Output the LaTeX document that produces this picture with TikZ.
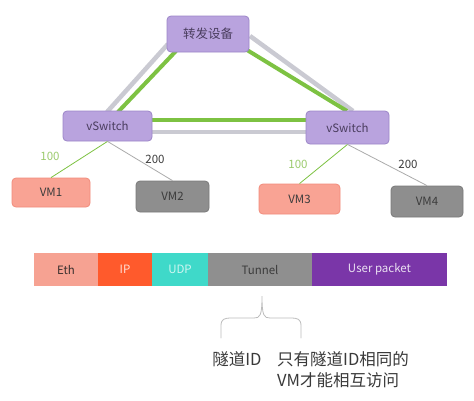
\documentclass[tikz,border=0pt]{standalone}
\usepackage{fontspec}
\setmainfont{Noto Sans CJK SC}
\setsansfont{Noto Sans CJK SC}
\begin{document}
\begin{tikzpicture}[x=1pt,y=-1pt,
  pbox/.style={draw=boxpurpleD,fill=boxpurple,rounded corners=4pt,line width=0.8pt,text=boxtext,font=\fontsize{11.5}{13}\selectfont,inner sep=0pt},
  vmred/.style={draw=vmredD,fill=vmred,rounded corners=4pt,line width=0.8pt,text=vmtext,font=\fontsize{11.5}{13}\selectfont,inner sep=0pt},
  vmgray/.style={draw=vmgrayD,fill=vmgray,rounded corners=4pt,line width=0.8pt,text=vmtext,font=\fontsize{11.5}{13}\selectfont,inner sep=0pt},
  glink/.style={draw=linkgreen,line width=4pt},
  wlink/.style={draw=linkgray,line width=4.5pt},
  thin green/.style={draw=linkgreen,line width=0.8pt},
  thin gray/.style={draw=thingray,line width=0.8pt},
  seg/.style={draw=none,inner sep=0pt,font=\fontsize{11.5}{13}\selectfont,minimum height=33pt},
  lbl/.style={inner sep=0pt,font=\fontsize{11.5}{13}\selectfont},
  cjk/.style={inner sep=0pt,font=\fontsize{16.5}{21}\selectfont,text=cjktext,align=left}
]
\definecolor{boxpurple}{HTML}{B9A3DE}
\definecolor{boxpurpleD}{HTML}{9C86C8}
\definecolor{boxtext}{HTML}{4A3D5E}
\definecolor{vmred}{HTML}{F9A394}
\definecolor{vmredD}{HTML}{F28C7C}
\definecolor{vmgray}{HTML}{8E8E8E}
\definecolor{vmgrayD}{HTML}{7A7A7A}
\definecolor{vmtext}{HTML}{3C3C3C}
\definecolor{linkgreen}{HTML}{7DC242}
\definecolor{linkgray}{HTML}{CACAD2}
\definecolor{thingray}{HTML}{ABABAB}
\definecolor{lblgreen}{HTML}{9CCB6E}
\definecolor{cjktext}{HTML}{3A3A3A}
\definecolor{cEth}{HTML}{F6A292}
\definecolor{cIP}{HTML}{FF5A2C}
\definecolor{cUDP}{HTML}{3FD9C9}
\definecolor{cTun}{HTML}{8F8F8F}
\definecolor{cUser}{HTML}{7A36A8}
\useasboundingbox (0,0) rectangle (474,400);
\fill[white] (0,0) rectangle (474,400);

% link endpoints
\coordinate (gl1) at (107,112); \coordinate (gl2) at (168,44);
\coordinate (ml1) at (118,112); \coordinate (ml2) at (176,51);
\coordinate (gr1) at (250,36); \coordinate (gr2) at (353,111);
\coordinate (mr1) at (247,50); \coordinate (mr2) at (347,111);
\coordinate (gh1) at (150,132); \coordinate (gh2) at (308,132);
\coordinate (mh1) at (150,120); \coordinate (mh2) at (308,120);

\draw[wlink] (gl1) -- (gl2);
\draw[wlink] (gr1) -- (gr2);
\draw[wlink] (gh1) -- (gh2);
\draw[glink] (ml1) -- (ml2);
\draw[glink] (mr1) -- (mr2);
\draw[glink] (mh1) -- (mh2);

% nodes
\node[pbox,minimum width=82pt,minimum height=36pt,font=\fontsize{12.5}{14}\selectfont] (fwd) at (208,34) {转发设备};
\node[pbox,minimum width=89pt,minimum height=30pt] (vsl) at (107.5,126) {vSwitch};
\node[pbox,minimum width=83pt,minimum height=33pt] (vsr) at (347.5,127.5) {vSwitch};
\node[vmred,minimum width=78pt,minimum height=29pt] (vm1) at (51,192.5) {VM1};
\node[vmgray,minimum width=73pt,minimum height=31pt] (vm2) at (172.5,196.5) {VM2};
\node[vmred,minimum width=81pt,minimum height=30pt] (vm3) at (299.5,199) {VM3};
\node[vmgray,minimum width=72pt,minimum height=31pt] (vm4) at (427,201.5) {VM4};

% VM links
\draw[thin green] (vsl.south) -- (vm1.north);
\draw[thin gray] (vsl.south) -- (vm2.north);
\draw[thin green] (vsr.south) -- (vm3.north);
\draw[thin gray] (vsr.south) -- (vm4.north);
\node[lbl,text=lblgreen] (l100a) at (50,156) {100};
\node[lbl,text=vmtext] (l200a) at (155,159) {200};
\node[lbl,text=lblgreen] (l100b) at (298,164) {100};
\node[lbl,text=vmtext] (l200b) at (408,164) {200};

% packet bar
\node[seg,fill=cEth,text=vmtext!80!cEth!60!black,minimum width=64pt] (eth) at (66,269.5) {Eth};
\node[seg,fill=cIP,text=white!80!cIP,minimum width=54pt] (ip) at (125,269.5) {IP};
\node[seg,fill=cUDP,text=white!75!cUDP,minimum width=56pt] (udp) at (180,269.5) {UDP};
\node[seg,fill=cTun,text=vmtext,minimum width=104pt] (tun) at (260,269.5) {Tunnel};
\node[seg,fill=cUser,text=white!85!cUser,minimum width=135pt] (usr) at (379.5,269.5) {User packet};

% brace
\coordinate (bl) at (221,338); \coordinate (br) at (301,338); \coordinate (bt) at (262,296);
\draw[draw=thingray!80,line width=0.8pt,line cap=round]
  (bl) -- (221,326) .. controls (221,319) and (224,318) .. (232,318)
  -- (254,318) .. controls (260,318) and (262,316) .. (bt)
  .. controls (262,316) and (264,318) .. (270,318)
  -- (290,318) .. controls (298,318) and (301,319) .. (301,326) -- (br);

% texts
\node[cjk,anchor=center] (tid) at (237,359) {隧道ID};
\node[cjk,anchor=west] (note) at (277,369.5) {只有隧道ID相同的\\VM才能相互访问};
\end{tikzpicture}
\end{document}
